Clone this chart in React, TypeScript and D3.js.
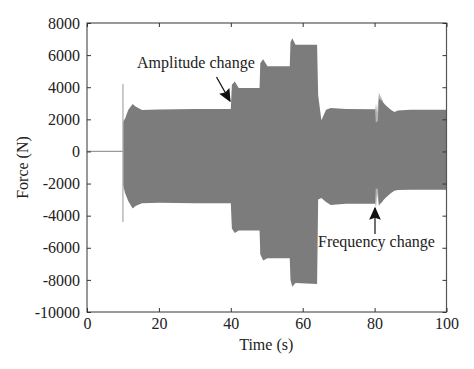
import React, { useEffect, useRef } from 'react';
import * as d3 from 'd3';

// envelope of the force signal (max / min over each oscillation)
const envTime = [10.05, 10.6, 11.5, 12.7, 13.5, 15.3, 20, 30, 40.0, 40.3, 41.1, 42.2, 48.0, 48.2, 49.0, 50.2, 56.4, 56.6, 57.1, 58.0, 64.0, 64.3, 65.2, 66.5, 67.8, 72, 80.2, 80.35, 80.9, 81.2, 82.0, 83.0, 84.5, 85.5, 86.5, 90, 100];
const envUpper = [1850, 2050, 2600, 2950, 2800, 2580, 2620, 2640, 2650, 4150, 4350, 3950, 3950, 5500, 5750, 5300, 5300, 6800, 7050, 6650, 6650, 3500, 1950, 2600, 2700, 2640, 2630, 1800, 1900, 3300, 3150, 2900, 2600, 2450, 2550, 2600, 2600];
const envLower = [-2100, -2600, -3100, -3550, -3400, -3230, -3200, -3220, -3230, -4800, -5080, -4930, -4930, -6400, -6800, -6650, -6650, -8000, -8420, -8200, -8250, -3000, -2900, -3150, -3330, -3250, -3250, -2300, -2350, -3300, -3150, -2900, -2600, -2450, -2400, -2380, -2380];

// lighter spikes right at the frequency change
const transTime = [80.2, 80.4, 80.7, 81.2, 81.7, 82.3];
const transUpper = [2630, 3000, 2400, 3650, 3400, 3150];
const transLower = [-3250, -3550, -2600, -3400, -3250, -3100];

// before the excitation starts
const idleTime = [0, 10];
const idleValue = [0, 0];
const kickTime = 10;
const kickRange = [-4400, 4200];

const xTicks = [0, 20, 40, 60, 80, 100];
const yTicks = [-10000, -8000, -6000, -4000, -2000, 0, 2000, 4000, 6000, 8000];

const FONT = '"Liberation Serif", "DejaVu Serif", serif';
const FS = 16;

const ForceChart = () => {
  const svgRef: any = useRef();

  useEffect(() => {
    const width = 474;
    const height = 369;
    const left = 87, right = 446.5, top = 23, bottom = 312;

    const svg = d3.select(svgRef.current)
      .attr('width', width)
      .attr('height', height);
    svg.selectAll('*').remove();

    const x = d3.scaleLinear().domain([0, 100]).range([left, right]);
    const y = d3.scaleLinear().domain([-10000, 8000]).range([bottom, top]);

    const idx = (a: number[]) => a.map((_, i) => i);

    // transient spikes (light)
    const transArea: any = d3.area<number>()
      .x(i => x(transTime[i]))
      .y0(i => y(transLower[i]))
      .y1(i => y(transUpper[i]));
    svg.append('path')
      .attr('d', transArea(idx(transTime)))
      .attr('fill', '#b4b4b4');

    // main envelope
    const envArea: any = d3.area<number>()
      .x(i => x(envTime[i]))
      .y0(i => y(envLower[i]))
      .y1(i => y(envUpper[i]));
    svg.append('path')
      .attr('d', envArea(idx(envTime)))
      .attr('fill', '#7c7c7c');

    // zero line before start + start kick
    const idleLine: any = d3.line<number>()
      .x(i => x(idleTime[i]))
      .y(i => y(idleValue[i]));
    svg.append('path')
      .attr('d', idleLine(idx(idleTime)))
      .attr('stroke', '#9a9a9a')
      .attr('stroke-width', 1.2)
      .attr('fill', 'none');
    svg.append('line')
      .attr('x1', x(kickTime)).attr('x2', x(kickTime))
      .attr('y1', y(kickRange[0])).attr('y2', y(kickRange[1]))
      .attr('stroke', '#a8a8a8')
      .attr('stroke-width', 1.2);

    // frame
    svg.append('rect')
      .attr('x', left).attr('y', top)
      .attr('width', right - left).attr('height', bottom - top)
      .attr('fill', 'none')
      .attr('stroke', '#555')
      .attr('stroke-width', 1.2);

    const styleAxis = (g: any) => {
      g.select('.domain').remove();
      g.selectAll('line').attr('stroke', '#333');
      g.selectAll('text')
        .attr('font-family', FONT)
        .attr('font-size', FS)
        .attr('fill', '#222');
    };

    svg.append('g')
      .attr('transform', `translate(0,${bottom})`)
      .call(d3.axisBottom(x).tickValues(xTicks).tickSizeInner(-4).tickSizeOuter(0).tickPadding(6))
      .call(styleAxis);
    svg.append('g')
      .attr('transform', `translate(0,${top})`)
      .call(d3.axisTop(x).tickValues(xTicks).tickSizeInner(-4).tickSizeOuter(0).tickFormat(() => ''))
      .call(styleAxis);
    svg.append('g')
      .attr('transform', `translate(${left},0)`)
      .call(d3.axisLeft(y).tickValues(yTicks).tickSizeInner(-4).tickSizeOuter(0).tickPadding(7).tickFormat((d: any) => String(d)))
      .call(styleAxis);
    svg.append('g')
      .attr('transform', `translate(${right},0)`)
      .call(d3.axisRight(y).tickValues(yTicks).tickSizeInner(-4).tickSizeOuter(0).tickFormat(() => ''))
      .call(styleAxis);

    // axis titles
    svg.append('text')
      .attr('x', (left + right) / 2 - 0.5)
      .attr('y', 350)
      .attr('text-anchor', 'middle')
      .attr('font-family', FONT)
      .attr('font-size', FS)
      .attr('fill', '#222')
      .text('Time (s)');
    svg.append('text')
      .attr('transform', `translate(28,${(top + bottom) / 2}) rotate(-90)`)
      .attr('text-anchor', 'middle')
      .attr('font-family', FONT)
      .attr('font-size', FS)
      .attr('fill', '#222')
      .text('Force (N)');

    // annotations
    svg.append('defs').append('marker')
      .attr('id', 'arrowhead')
      .attr('viewBox', '0 0 10 10')
      .attr('refX', 9).attr('refY', 5)
      .attr('markerWidth', 13).attr('markerHeight', 13)
      .attr('markerUnits', 'userSpaceOnUse')
      .attr('orient', 'auto')
      .append('path')
      .attr('d', 'M0,0.5 L10,5 L0,9.5 L1.5,5 Z')
      .attr('fill', '#111');

    svg.append('text')
      .attr('x', 137).attr('y', 68)
      .attr('font-family', FONT)
      .attr('font-size', FS)
      .attr('fill', '#222')
      .text('Amplitude change');
    svg.append('line')
      .attr('x1', 216.5).attr('y1', 77)
      .attr('x2', 230).attr('y2', 101)
      .attr('stroke', '#111').attr('stroke-width', 1.2)
      .attr('marker-end', 'url(#arrowhead)');

    svg.append('text')
      .attr('x', 318).attr('y', 247)
      .attr('font-family', FONT)
      .attr('font-size', FS)
      .attr('fill', '#222')
      .text('Frequency change');
    svg.append('line')
      .attr('x1', 375).attr('y1', 234)
      .attr('x2', 375).attr('y2', 208)
      .attr('stroke', '#111').attr('stroke-width', 1.2)
      .attr('marker-end', 'url(#arrowhead)');
  }, []);

  return <svg ref={svgRef} style={{ position: 'absolute', left: 0, top: 0 }}></svg>;
};

export default function App() {
  return <ForceChart />;
}
